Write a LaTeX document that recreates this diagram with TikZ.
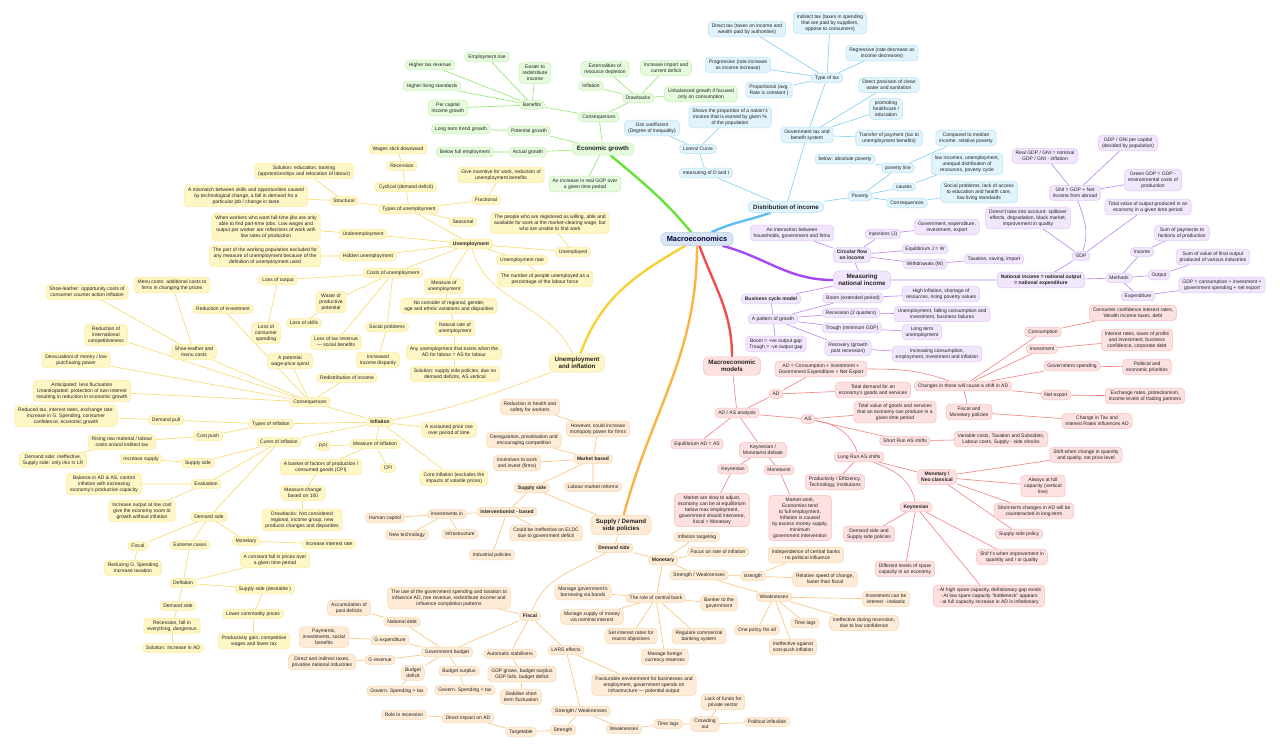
\documentclass[tikz,border=0pt]{standalone}
\usepackage{fontspec}
\setmainfont{Liberation Sans}
\usetikzlibrary{backgrounds}
\definecolor{grnFill}{HTML}{E6FBDD}
\definecolor{grnDraw}{HTML}{C4F0B0}
\definecolor{grnLine}{HTML}{8BE86A}
\definecolor{grnMain}{HTML}{66E43A}
\definecolor{bluFill}{HTML}{E1F4FC}
\definecolor{bluDraw}{HTML}{B4E2F6}
\definecolor{bluLine}{HTML}{80CCF2}
\definecolor{bluMain}{HTML}{5DBDF4}
\definecolor{purFill}{HTML}{F1E6FC}
\definecolor{purDraw}{HTML}{DDC6F6}
\definecolor{purLine}{HTML}{B883EE}
\definecolor{purMain}{HTML}{A649F5}
\definecolor{redFill}{HTML}{FDE1E1}
\definecolor{redDraw}{HTML}{F7BDBD}
\definecolor{redLine}{HTML}{F37F7F}
\definecolor{redMain}{HTML}{F04E4E}
\definecolor{orgFill}{HTML}{FDEBD5}
\definecolor{orgDraw}{HTML}{F7D9B2}
\definecolor{orgLine}{HTML}{F8C27A}
\definecolor{orgMain}{HTML}{FAB444}
\definecolor{ylwFill}{HTML}{FFF6C6}
\definecolor{ylwDraw}{HTML}{FCE9A0}
\definecolor{ylwLine}{HTML}{FAD865}
\definecolor{ylwMain}{HTML}{F9D137}
\definecolor{ctrFill}{HTML}{D8E5F4}
\definecolor{ctrDraw}{HTML}{B9CDE6}
\definecolor{inkTxt}{HTML}{222222}
\begin{document}
\begin{tikzpicture}[x=1pt, y=-1pt,
    box/.style={rectangle, rounded corners=4pt, draw, line width=0.5pt, align=center, text=inkTxt, font=\fontsize{5}{5.9}\selectfont, inner xsep=3.5pt, inner ysep=2.6pt},
    grnbox/.style={box, fill=grnFill, draw=grnDraw},
    blubox/.style={box, fill=bluFill, draw=bluDraw},
    purbox/.style={box, fill=purFill, draw=purDraw},
    redbox/.style={box, fill=redFill, draw=redDraw},
    orgbox/.style={box, fill=orgFill, draw=orgDraw},
    ylwbox/.style={box, fill=ylwFill, draw=ylwDraw},
    strong/.style={font=\fontsize{5}{5.9}\selectfont\bfseries},
    topic/.style={font=\fontsize{6.2}{7.2}\selectfont\bfseries, inner xsep=5pt, inner ysep=3.2pt, rounded corners=5pt},
    hub/.style={box, fill=ctrFill, draw=ctrDraw, font=\fontsize{7.4}{8}\selectfont\bfseries, text=black!80!blue, inner xsep=6pt, inner ysep=4pt, rounded corners=6pt},
    link/.style={line width=0.6pt},
    mainline/.style={line width=2.4pt, line cap=round}
]
\useasboundingbox (0,0) rectangle (1280,750);

\node[hub] (macro) at (697,239) {Macroeconomics};

\node[grnbox, topic] (egrowth) at (603,149) {Economic growth};
\node[grnbox] (gcons) at (599,117) {Consequences};
\node[grnbox] (gben) at (532,105) {Benefits};
\node[grnbox] (gdraw) at (638,98) {Drawbacks};
\node[grnbox] (gext) at (605,69) {Externalities of\\resource depletion};
\node[grnbox] (gimp) at (666,68) {Increase import and\\current deficit};
\node[grnbox] (ginfl) at (591,86) {Inflation};
\node[grnbox] (gunbal) at (701,94) {Unbalanced growth if focused\\only on consumption};
\node[grnbox] (gemp) at (487,57) {Employment rise};
\node[grnbox] (geasy) at (535,73) {Easier to\\redistribute\\income};
\node[grnbox] (gtax) at (430,65) {Higher tax revenue};
\node[grnbox] (gliving) at (432,86) {Higher living standards};
\node[grnbox] (gpercap) at (448,108) {Per capital\\income growth};
\node[grnbox] (gpot) at (529,131) {Potential growth};
\node[grnbox] (glong) at (461,129) {Long term trend growth};
\node[grnbox] (gact) at (528,152) {Actual growth};
\node[grnbox] (gbelow) at (465,152) {Below full employment};
\node[grnbox] (gdef) at (585,184) {An increase in real GDP over\\a given time period};

\node[blubox, topic] (distinc) at (786,207) {Distribution of income};
\node[blubox] (bmeas) at (706,173) {measuring of D and I};
\node[blubox] (blorenz) at (698,149) {Lorenz Curve};
\node[blubox] (bgini) at (652,128) {Gini coefficient\\(Degree of inequality)};
\node[blubox] (bshows) at (730,117) {Shows the proportion of a nation's\\income that is earned by given \%\\of the population};
\node[blubox] (bgov) at (807,135) {Government tax and\\benefit system};
\node[blubox] (btype) at (827,78) {Type of tax};
\node[blubox] (bdirect) at (747,29) {Direct tax (taxes on income and\\wealth paid by authorities)};
\node[blubox] (bindirect) at (830,23) {Indirect tax (taxes in spending\\that are paid by suppliers,\\oppose to consumers)};
\node[blubox] (bregr) at (882,53) {Regressive (rate decrease as\\income decreases)};
\node[blubox] (bprog) at (738,65) {Progressive (rate increase\\as income increase)};
\node[blubox] (bprop) at (769,90) {Proportional (avg.\\Rate is constant )};
\node[blubox] (bwater) at (889,85) {Direct provision of clean\\water and sanitation};
\node[blubox] (bhealth) at (886,109) {promoting\\healthcare /\\education};
\node[blubox] (btransfer) at (889,138) {Transfer of payment (tax to\\unemployment benefits)};
\node[blubox] (babs) at (845,159) {below: absolute poverty};
\node[blubox] (bline) at (898,168) {poverty line};
\node[blubox] (bpov) at (860,196) {Poverty};
\node[blubox] (bcauses) at (904,187) {causes};
\node[blubox] (bcons) at (907,203) {Consequences};
\node[blubox] (brel) at (966,138) {Compared to median\\income: relative poverty};
\node[blubox] (bcausetxt) at (967,164) {low incomes, unemployment,\\unequal distribution of\\resources, poverty cycle};
\node[blubox] (bconstxt) at (979,192) {Social problems, lack of access\\to education and health care,\\low living standards};

\node[purbox, topic] (mni) at (862,280) {Measuring\\national income};
\node[purbox, strong] (pcirc) at (852,255) {Circular flow\\on income};
\node[purbox] (pinter) at (792,233) {An interaction between\\households, government and firms};
\node[purbox] (pinj) at (883,234) {Injections (J)};
\node[purbox] (pinjtxt) at (947,227) {Government, expenditure,\\investment, export};
\node[purbox] (pequil) at (925,249) {Equilibrium  J = W};
\node[purbox] (pwith) at (925,264) {Withdrawals (W)};
\node[purbox] (pwithtxt) at (994,259) {Taxation, saving, import};
\node[purbox, strong] (pnat) at (1041,280) {National income = national output\\= national expenditure};
\node[purbox] (pgdp) at (1081,256) {GDP};
\node[purbox] (pgni) at (1075,193) {GNI = GDP + Net\\income from abroad};
\node[purbox] (preal) at (1045,156) {Real GDP / GNI = nominal\\GDP / GNI - inflation};
\node[purbox] (ppercap) at (1128,143) {GDP / GNI per capital\\(devided by population)};
\node[purbox] (pgreen) at (1153,180) {Green GDP = GDP -\\environmental costs of\\production};
\node[purbox] (pdoesnt) at (1028,218) {Doesn't take into account: spillover\\effects, degradation, black market,\\improvement in quality};
\node[purbox] (ptotal) at (1148,207) {Total value of output produced in an\\economy in a given time period};
\node[purbox] (pmeth) at (1119,278) {Methods};
\node[purbox] (pinc) at (1142,252) {Income};
\node[purbox] (pinctxt) at (1182,233) {Sum of payments to\\factions of production};
\node[purbox] (pout) at (1159,275) {Output};
\node[purbox] (pouttxt) at (1213,257) {Sum of value of final output\\produced of various industries};
\node[purbox] (pexp) at (1138,296) {Expenditure};
\node[purbox] (pexptxt) at (1222,285) {GDP = consumption + investment +\\government spending + net export};
\node[purbox, strong] (pbus) at (771,299) {Business cycle model};
\node[purbox] (ppat) at (773,319) {A pattern of growth};
\node[purbox] (pgap) at (776,344) {Boom = +ve output gap\\Trough = -ve output gap};
\node[purbox] (pboom) at (853,298) {Boom (extended period)};
\node[purbox] (pboomtxt) at (941,294) {High inflation, shortage of\\resources, rising poverty values};
\node[purbox] (prec) at (851,313) {Recession (2 quarters)};
\node[purbox] (prectxt) at (942,314) {Unemployment, falling consumption and\\investment, business failures};
\node[purbox] (ptrough) at (852,328) {Trough (minimum GDP)};
\node[purbox] (ptroughtxt) at (922,332) {Long term\\unemployment};
\node[purbox] (precov) at (848,348) {Recovery (growth\\post recession)};
\node[purbox] (precovtxt) at (937,354) {Increasing consumption,\\employment, investment and inflation};

\node[redbox, topic] (mmodels) at (732,366) {Macroeconomic\\models};
\node[redbox] (adas) at (737,413) {AD / AS analysis};
\node[redbox] (rad) at (776,394) {AD};
\node[redbox] (radform) at (821,369) {AD = Consumption + Investment +\\Government Expenditure + Net Export};
\node[redbox] (rtotdem) at (873,390) {Total demand for an\\economy's goods and services};
\node[redbox] (ras) at (808,419) {AS};
\node[redbox] (rastot) at (895,412) {Total value of goods and services\\that an economy can produce in a\\given time period};
\node[redbox] (rsras) at (905,441) {Short Run AS shifts};
\node[redbox] (rsrastxt) at (1001,439) {Variable costs, Taxation and Subsidies,\\Labour costs, Supply - side shocks};
\node[redbox] (rlras) at (859,457) {Lung Run AS shifts};
\node[redbox] (rprod) at (835,482) {Productivity / Efficiency,\\Technology, Institutions};
\node[redbox, strong] (rmon) at (937,477) {Monetary /\\Neo classical};
\node[redbox] (rshift) at (1086,455) {Shift when change in quantity\\and quality, not price level};
\node[redbox] (ralways) at (1043,486) {Always at full\\capacity (vertical\\line)};
\node[redbox] (rshort) at (1034,511) {Short-term changes in AD will be\\counteracted in long-term};
\node[redbox] (rsupp) at (1019,534) {Supply side policy};
\node[redbox, strong] (rkeyr) at (916,507) {Keynesian};
\node[redbox] (rdemsup) at (869,534) {Demand side and\\Supply side policies};
\node[redbox] (rdiff) at (905,569) {Different levels of spare\\capacity in an economy};
\node[redbox] (rshift2) at (1012,557) {Shif t's when improvement in\\quantity and / or quality};
\node[redbox] (rhigh) at (989,596) {- At high spare capacity, deflationary gap exists\\- At low spare capacity ``bottleneck'' appears\\- at full capacity increase in AD is inflationary};
\node[redbox] (requil) at (697,444) {Equilibrium AD = AS};
\node[redbox] (rdebate) at (763,450) {Keynesian /\\Monetarist debate};
\node[redbox] (rkeyl) at (733,469) {Keynesian};
\node[redbox] (rmonl) at (779,470) {Monetarist};
\node[redbox] (rkeyltxt) at (712,510) {Market are slow to adjust,\\economy can be at equilibrium\\below max employment,\\government should intervene,\\fiscal > Monetary};
\node[redbox] (rmonltxt) at (800,518) {Market work,\\Economies tend\\to full employment,\\Inflation is caused\\by excess money supply,\\minimum\\government intervention};
\node[redbox] (rchg) at (963,386) {Changes in those will cause a shift in AD};
\node[redbox] (rcon) at (1043,332) {Consumption};
\node[redbox] (rcontxt) at (1133,313) {Consumer confidence interest rates,\\Wealth income taxes, debt};
\node[redbox] (rinv) at (1042,349) {Investment};
\node[redbox] (rinvtxt) at (1137,340) {Interest rates, taxes of profits\\and investment, business\\confidence, corporate debt};
\node[redbox] (rgov) at (1072,366) {Government spending};
\node[redbox] (rgovtxt) at (1147,367) {Political and\\economic priorities};
\node[redbox] (rnet) at (1056,395) {Net export};
\node[redbox] (rnettxt) at (1145,396) {Exchange rates, protectionism,\\income levels of trading partners};
\node[redbox] (rfis) at (969,412) {Fiscal and\\Monetary policies};
\node[redbox] (rfistxt) at (1097,421) {Change in Tax and\\Interest Rates influences AD};

\node[orgbox, topic] (sdpol) at (621,525) {Supply / Demand\\side policies};
\node[orgbox, strong] (ssupp) at (532,488) {Supply side};
\node[orgbox, strong] (smarket) at (593,459) {Market based};
\node[orgbox] (shealth) at (530,407) {Reduction in health and\\safety for workers};
\node[orgbox] (smono) at (598,429) {However, could increase\\monopoly power for firms};
\node[orgbox] (sdereg) at (524,440) {Deregulation, privatisation and\\encouraging competition};
\node[orgbox] (sincent) at (517,463) {Incentives to work\\and invest (firms)};
\node[orgbox] (slabour) at (593,487) {Labour market reforms};
\node[orgbox, strong] (sinterv) at (507,512) {interventionist - based};
\node[orgbox] (sinvest) at (447,514) {investments in};
\node[orgbox] (shuman) at (385,518) {Human capitol};
\node[orgbox] (snewtech) at (407,535) {New technology};
\node[orgbox] (sinfra) at (460,534) {Infrastructure};
\node[orgbox] (seldc) at (546,533) {Could be ineffective on ELDC\\due to government deficit};
\node[orgbox] (sindust) at (492,555) {Industrial policies};
\node[orgbox, strong] (sdem) at (614,548) {Demand side};
\node[orgbox, strong] (smon) at (663,560) {Monetary};
\node[orgbox] (starget) at (697,537) {Inflation targeting};
\node[orgbox] (sfocus) at (718,552) {Focus on rate of inflation};
\node[orgbox] (ssw) at (699,575) {Strength / Weaknesses};
\node[orgbox] (sstr) at (753,576) {strength};
\node[orgbox] (sindep) at (806,555) {Independence of central banks\\- no political influence};
\node[orgbox] (srel) at (825,579) {Relative speed of change,\\faster than fiscal};
\node[orgbox] (sweak) at (774,597) {Weaknesses};
\node[orgbox] (sone) at (757,630) {One policy fits all};
\node[orgbox] (stlag) at (805,623) {Time lags};
\node[orgbox] (scost) at (793,647) {Ineffective against\\cost-push inflation};
\node[orgbox] (srecess) at (864,623) {Ineffective during recession,\\due to low confidence};
\node[orgbox] (sinel) at (886,599) {Investment can be\\interest - inelastic};
\node[orgbox] (scb) at (656,598) {The role of central bank};
\node[orgbox] (sborrow) at (583,592) {Manage government's\\borrowing via bonds};
\node[orgbox] (sbanker) at (719,603) {Banker to the\\government};
\node[orgbox] (smoney) at (592,617) {Manage supply of money\\via nominal interest};
\node[orgbox] (srates) at (631,636) {Set interest rates for\\macro objectives};
\node[orgbox] (sregul) at (699,636) {Regulate commercial\\banking system};
\node[orgbox] (sforeign) at (665,657) {Manage foreign\\currency reserves};
\node[orgbox, strong] (sfis) at (530,616) {Fiscal};
\node[orgbox] (suse) at (449,598) {The use of the government spending and taxation to\\influence AD, rise revenue, redistribute income and\\influence completion patterns};
\node[orgbox] (sbudget) at (447,652) {Government budget};
\node[orgbox] (sdebt) at (402,622) {National debt};
\node[orgbox] (saccum) at (349,608) {Accumulation of\\past deficits};
\node[orgbox] (sgexp) at (390,640) {G expenditure};
\node[orgbox] (spay) at (324,637) {Payments,\\investments, social\\benefits};
\node[orgbox] (sgrev) at (380,660) {G revenue};
\node[orgbox] (sdirtax) at (322,662) {Direct and indirect taxes,\\privatise national industries};
\node[orgbox] (sdeficit) at (413,673) {Budget\\deficit};
\node[orgbox] (sgt) at (397,691) {Govern. Spending > tax};
\node[orgbox] (ssurplus) at (459,671) {Budget surplus};
\node[orgbox] (slt) at (465,690) {Govern. Spending < tax};
\node[orgbox] (sauto) at (510,654) {Automatic stabilisers};
\node[orgbox] (sgdp) at (522,674) {GDP grows, budget surplus\\GDP falls, budget deficit};
\node[orgbox] (sstab) at (521,697) {Stabilise short\\term fluctuation};
\node[orgbox] (slars) at (566,650) {LARS effects};
\node[orgbox] (sfav) at (644,685) {Favourable environment for businesses and\\employment, government spends on\\infrastructure — potential output};
\node[orgbox] (ssw2) at (581,711) {Strength / Weaknesses};
\node[orgbox] (sstrength) at (563,730) {Strength};
\node[orgbox] (starg) at (521,732) {Targetable};
\node[orgbox] (sdirad) at (468,718) {Direct impact on AD};
\node[orgbox] (srole) at (404,715) {Role in recession};
\node[orgbox] (sweak2) at (624,729) {Weaknesses};
\node[orgbox] (stlag2) at (668,724) {Time lags};
\node[orgbox] (scrowd) at (705,724) {Crowding\\out};
\node[orgbox] (slack) at (723,702) {Lack of funds for\\private sector};
\node[orgbox] (spolit) at (767,722) {Political inflexible};

\node[ylwbox, topic] (ui) at (577,363) {Unemployment\\and inflation};
\node[ylwbox, strong] (unemp) at (471,244) {Unemployment};
\node[ylwbox] (uunemd) at (573,252) {Unemployed};
\node[ylwbox] (upeople) at (550,223) {The people who are registered as willing, able and\\available for work at the market-clearing wage, but\\who are unable to find work};
\node[ylwbox] (urate) at (522,260) {Unemployment rate};
\node[ylwbox] (unumber) at (545,279) {The number of people unemployed as a\\percentage of the labour force};
\node[ylwbox] (utypes) at (409,209) {Types of unemployment};
\node[ylwbox] (ucyc) at (406,187) {Cyclical (demand deficit)};
\node[ylwbox] (urec) at (402,166) {Recession};
\node[ylwbox] (uwages) at (398,149) {Wages stick downward};
\node[ylwbox] (ufrac) at (486,200) {Fractional};
\node[ylwbox] (ugive) at (501,175) {Give incentive for work, reduction of\\unemployment benefits};
\node[ylwbox] (useas) at (463,222) {Seasonal};
\node[ylwbox] (ustruct) at (344,201) {Structural};
\node[ylwbox] (usol) at (304,171) {Solution: education, training\\(apprenticeships and relocation of labour)};
\node[ylwbox] (umism) at (246,196) {A mismatch between skills and opportunities caused\\by technological change, a fall in demand fro a\\particular job / change in taste};
\node[ylwbox] (uunder) at (363,234) {Underemployment};
\node[ylwbox] (uwhen) at (266,227) {When workers who want full-time jibs are only\\able to find part-time jobs. Low wages and\\output per worker are reflections of work with\\low rates of production};
\node[ylwbox] (uhidden) at (368,256) {Hidden unemployment};
\node[ylwbox] (upart) at (265,256) {The part of the working population excluded for\\any measure of unemployment because of the\\definition of unemployment used};
\node[ylwbox] (ucosts) at (393,273) {Costs of unemployment};
\node[ylwbox] (uoutput) at (278,280) {Loss of output};
\node[ylwbox] (uspend) at (266,333) {Loss of\\consumer\\spending};
\node[ylwbox] (uwaste) at (331,302) {Waste of\\productive\\potential};
\node[ylwbox] (uskills) at (304,323) {Loss of skills};
\node[ylwbox] (utaxrev) at (336,342) {Loss of tax revenue\\— social benefits};
\node[ylwbox] (usocial) at (387,327) {Social problems};
\node[ylwbox] (udisp) at (378,360) {Increased\\income disparity};
\node[ylwbox] (umeas) at (444,286) {Measure of\\unemployment};
\node[ylwbox] (unocon) at (449,306) {No consider of regional, gender,\\age and ethnic variations and disparities};
\node[ylwbox] (unat) at (455,328) {Natural rate of\\unemployment};
\node[ylwbox] (uany) at (454,352) {Any unemployment that exists when the\\AD for labour = AS for labour};
\node[ylwbox] (usolnat) at (455,374) {Solution: supply side policies, due no\\demand deficits, AS vertical};

\node[ylwbox, strong] (infl) at (380,422) {Inflation};
\node[ylwbox] (icons) at (310,402) {Consequences};
\node[ylwbox] (ishoemenu) at (194,352) {Shoe-leather and\\menu costs};
\node[ylwbox] (imenu) at (172,285) {Menu costs: additional costs to\\firms in changing the prices};
\node[ylwbox] (ishoe) at (87,292) {Shoe-leather: opportunity costs of\\consumer counter action inflation};
\node[ylwbox] (iredinv) at (223,309) {Reduction of investment};
\node[ylwbox] (iintl) at (106,335) {Reduction of\\international\\competitiveness};
\node[ylwbox] (ideval) at (76,360) {Deva;uationi of money / low\\purchasing power};
\node[ylwbox] (iantic) at (82,391) {Anticipated: less fluctuation\\Unanticipated: protection of own interest\\resulting in reduction in economic growth};
\node[ylwbox] (iwage) at (290,361) {A potential\\wage-price spiral};
\node[ylwbox] (iredist) at (347,378) {Redistribution of income};
\node[ylwbox] (itypes) at (271,424) {Types of inflation};
\node[ylwbox] (idpull) at (166,420) {Demand pull};
\node[ylwbox] (idpulltxt) at (66,416) {Reduced tax, interest rates, exchange rate:\\increase in G. Spending, consumer\\confidence, economic growth};
\node[ylwbox] (icpush) at (208,436) {Cost push};
\node[ylwbox] (icpushtxt) at (122,442) {Rising raw material / labour\\costs or/and indirect tax};
\node[ylwbox] (iineff) at (53,460) {Demand side: ineffective,\\Supply side: only irks in LR};
\node[ylwbox] (icures) at (279,442) {Cures of inflation};
\node[ylwbox] (isupp) at (198,463) {Supply side};
\node[ylwbox] (iincsup) at (141,459) {Increase supply};
\node[ylwbox] (ieval) at (206,484) {Evaluation};
\node[ylwbox] (ibal) at (104,484) {Balance in AD \& AS, control\\inflation with increasing\\economy's productive capacity};
\node[ylwbox] (iincout) at (142,511) {Increase output at low cost\\give the economy room to\\growth without inflation};
\node[ylwbox] (idem) at (209,517) {Demand side};
\node[ylwbox] (ifis) at (138,546) {Fiscal};
\node[ylwbox] (ired) at (133,568) {Reducing G. Spending\\increase taxation};
\node[ylwbox] (iext) at (190,545) {Extreme cases};
\node[ylwbox] (imon) at (246,541) {Monetary};
\node[ylwbox] (iint) at (329,544) {Increase interest rate};
\node[ylwbox] (idefl) at (183,583) {Deflation};
\node[ylwbox] (iconst) at (275,560) {A constant fall in prices over\\a given time period};
\node[ylwbox] (isuppdes) at (265,589) {Supply side (desirable )};
\node[ylwbox] (ilower) at (253,614) {Lower commodity prices};
\node[ylwbox] (iprod) at (254,641) {Productivity gain, competitive\\wages and lower tax};
\node[ylwbox] (idemdefl) at (178,606) {Demand side};
\node[ylwbox] (irecfall) at (172,626) {Recession, fall in\\everything, dangerous};
\node[ylwbox] (isolad) at (173,648) {Solution: Increase in AD};
\node[ylwbox] (imeas) at (375,444) {Measure of inflation};
\node[ylwbox] (ippi) at (323,446) {PPI};
\node[ylwbox] (icpi) at (388,468) {CPI};
\node[ylwbox] (ibasket) at (321,467) {A basket of factors of production /\\consumed goods (CPI)};
\node[ylwbox] (ichg) at (303,493) {Measure change\\based on 100};
\node[ylwbox] (idraw) at (302,520) {Drawbacks: Not considered\\regional, income group, new\\products changes and disparities};
\node[ylwbox] (isust) at (449,430) {A sustained price rise\\over period of time};
\node[ylwbox] (icore) at (454,478) {Core inflation (excludes the\\impacts of volatile prices)};

\begin{scope}[on background layer]
\fill[white] (0,0) rectangle (1280,750);
\draw[mainline, grnMain] (macro) to[out=130, in=-40] (egrowth);
\draw[mainline, bluMain] (macro) to[out=25, in=200] (distinc);
\draw[mainline, purMain] (macro) to[out=-15, in=180] (mni);
\draw[mainline, redMain] (macro) to[out=-70, in=90] (mmodels);
\draw[mainline, orgMain] (macro) to[out=-90, in=75] (sdpol);
\draw[mainline, ylwMain] (macro) to[out=-150, in=70] (ui);

\draw[link, grnLine] (egrowth) -- (gcons) (gcons) -- (gben) (gcons) -- (gdraw) (gdraw) -- (gext) (gdraw) -- (gimp) (gdraw) -- (ginfl) (gdraw) -- (gunbal);
\draw[link, grnLine] (gben) -- (gemp) (gben) -- (geasy) (gben) -- (gtax) (gben) -- (gliving) (gben) -- (gpercap);
\draw[link, grnLine] (egrowth) -- (gpot) (gpot) -- (glong) (egrowth) -- (gact) (gact) -- (gbelow) (egrowth) -- (gdef);

\draw[link, bluLine] (distinc) -- (bmeas) (bmeas) -- (blorenz) (blorenz) -- (bgini) (blorenz) -- (bshows);
\draw[link, bluLine] (distinc) -- (bgov) (bgov) -- (btype) (btype) -- (bdirect) (btype) -- (bindirect) (btype) -- (bregr) (btype) -- (bprog) (btype) -- (bprop);
\draw[link, bluLine] (bgov) -- (bwater) (bgov) -- (bhealth) (bgov) -- (btransfer);
\draw[link, bluLine] (distinc) -- (bpov) (bpov) -- (bline) (bline) -- (babs) (bline) -- (brel) (bpov) -- (bcauses) (bcauses) -- (bcausetxt) (bpov) -- (bcons) (bcons) -- (bconstxt);

\draw[link, purLine] (mni) -- (pcirc) (pcirc) -- (pinter) (pcirc) -- (pinj) (pinj) -- (pinjtxt) (pcirc) -- (pequil) (pcirc) -- (pwith) (pwith) -- (pwithtxt);
\draw[link, purLine] (mni) -- (pnat) (pnat) -- (pgdp) (pgni) -- (preal) (pgni) -- (ppercap) (pgni) -- (pgreen) (pgdp) -- (pdoesnt) (pgdp) -- (ptotal);
\draw[link, purLine] (pgdp) to[out=70, in=-70] (pgni);
\draw[link, purLine] (pnat) -- (pmeth) (pmeth) -- (pinc) (pinc) -- (pinctxt) (pmeth) -- (pout) (pout) -- (pouttxt) (pmeth) -- (pexp) (pexp) -- (pexptxt);
\draw[link, purLine] (mni) -- (pbus) (pbus) -- (ppat) (ppat) -- (pgap) (ppat) -- (pboom) (pboom) -- (pboomtxt) (ppat) -- (prec) (prec) -- (prectxt);
\draw[link, purLine] (ppat) -- (ptrough) (ptrough) -- (ptroughtxt) (ppat) -- (precov) (precov) -- (precovtxt);

\draw[link, redLine] (mmodels) -- (adas) (adas) -- (rad) (rad) -- (radform) (rad) -- (rtotdem) (adas) -- (ras) (ras) -- (rastot) (ras) -- (rsras) (rsras) -- (rsrastxt);
\draw[link, redLine] (ras) to[out=-10, in=110] (rlras);
\draw[link, redLine] (rlras) -- (rprod) (rlras) -- (rmon) (rmon) -- (rshift) (rmon) -- (ralways) (rmon) -- (rshort) (rmon) -- (rsupp);
\draw[link, redLine] (rlras) to[out=-20, in=100] (rkeyr);
\draw[link, redLine] (rkeyr) -- (rdemsup) (rkeyr) -- (rdiff) (rkeyr) -- (rshift2) (rkeyr) -- (rhigh);
\draw[link, redLine] (adas) -- (requil) (adas) -- (rdebate) (rdebate) -- (rkeyl) (rdebate) -- (rmonl) (rkeyl) -- (rkeyltxt) (rmonl) -- (rmonltxt);
\draw[link, redLine] (radform) to[out=0, in=160] (rchg);
\draw[link, redLine] (rchg) -- (rcon) (rcon) -- (rcontxt) (rchg) -- (rinv) (rinv) -- (rinvtxt) (rchg) -- (rgov) (rgov) -- (rgovtxt);
\draw[link, redLine] (rchg) -- (rnet) (rnet) -- (rnettxt) (rchg) -- (rfis) (rfis) -- (rfistxt);

\draw[link, orgLine] (sdpol) -- (ssupp) (ssupp) -- (smarket) (smarket) -- (smono) (smono) -- (shealth) (smarket) -- (sdereg) (smarket) -- (sincent) (smarket) -- (slabour);
\draw[link, orgLine] (ssupp) -- (sinterv) (sinterv) -- (sinvest) (sinvest) -- (shuman) (sinvest) -- (snewtech) (sinvest) -- (sinfra) (sinterv) -- (seldc) (sinterv) -- (sindust);
\draw[link, orgLine] (sdpol) -- (sdem) (sdem) -- (smon) (smon) -- (starget) (smon) -- (sfocus) (smon) -- (ssw) (ssw) -- (sstr) (sstr) -- (sindep) (sstr) -- (srel);
\draw[link, orgLine] (ssw) -- (sweak) (sweak) -- (sone) (sweak) -- (stlag) (sweak) -- (scost) (sweak) -- (srecess) (sweak) -- (sinel);
\draw[link, orgLine] (smon) -- (scb) (scb) -- (sborrow) (scb) -- (sbanker) (scb) -- (smoney) (scb) -- (srates) (scb) -- (sregul) (scb) -- (sforeign);
\draw[link, orgLine] (sdem) to[out=-150, in=70] (sfis);
\draw[link, orgLine] (sfis) -- (suse) (sfis) -- (sbudget) (sbudget) -- (sdebt) (sdebt) -- (saccum) (sbudget) -- (sgexp) (sgexp) -- (spay) (sbudget) -- (sgrev) (sgrev) -- (sdirtax);
\draw[link, orgLine] (sbudget) -- (sdeficit) (sdeficit) -- (sgt) (sbudget) -- (ssurplus) (ssurplus) -- (slt);
\draw[link, orgLine] (sfis) -- (sauto) (sauto) -- (sgdp) (sgdp) -- (sstab) (sfis) -- (slars) (slars) -- (sfav) (slars) -- (ssw2);
\draw[link, orgLine] (ssw2) -- (sstrength) (sstrength) -- (starg) (starg) -- (sdirad) (sdirad) -- (srole) (ssw2) -- (sweak2) (sweak2) -- (stlag2) (stlag2) -- (scrowd) (scrowd) -- (slack) (scrowd) -- (spolit);

\draw[link, ylwLine] (ui) to[out=115, in=-75] (unemp);
\draw[link, ylwLine] (unemp) -- (uunemd) (uunemd) -- (upeople) (unemp) -- (urate) (urate) -- (unumber);
\draw[link, ylwLine] (unemp) -- (utypes) (utypes) -- (ucyc) (ucyc) -- (urec) (urec) -- (uwages) (utypes) -- (ufrac) (ufrac) -- (ugive) (utypes) -- (useas);
\draw[link, ylwLine] (utypes) -- (ustruct) (ustruct) -- (usol) (ustruct) -- (umism) (unemp) -- (uunder) (uunder) -- (uwhen) (unemp) -- (uhidden) (uhidden) -- (upart);
\draw[link, ylwLine] (unemp) -- (ucosts) (ucosts) -- (uoutput) (uoutput) -- (uspend) (ucosts) -- (uwaste) (uwaste) -- (uskills) (ucosts) -- (utaxrev) (ucosts) -- (usocial) (usocial) -- (udisp);
\draw[link, ylwLine] (unemp) -- (umeas) (umeas) -- (unocon) (unocon) -- (unat) (unat) -- (uany) (uany) -- (usolnat);
\draw[link, ylwLine] (ui) to[out=-160, in=10] (infl);
\draw[link, ylwLine] (infl) -- (icons) (icons) -- (ishoemenu) (ishoemenu) -- (imenu) (ishoemenu) -- (ishoe) (icons) -- (iredinv) (icons) -- (iintl) (icons) -- (ideval);
\draw[link, ylwLine] (icons) -- (iantic) (icons) -- (iwage) (icons) -- (iredist);
\draw[link, ylwLine] (infl) -- (itypes) (itypes) -- (idpull) (idpull) -- (idpulltxt) (itypes) -- (icpush) (icpush) -- (icpushtxt) (icpushtxt) -- (iineff);
\draw[link, ylwLine] (infl) -- (icures) (icures) -- (isupp) (isupp) -- (iincsup) (icures) -- (ieval) (ieval) -- (ibal) (ieval) -- (iincout) (icures) -- (idem);
\draw[link, ylwLine] (idem) -- (ifis) (ifis) -- (ired) (idem) -- (iext) (iext) -- (idefl) (idem) -- (imon) (imon) -- (iint);
\draw[link, ylwLine] (idefl) -- (iconst) (idefl) -- (isuppdes) (isuppdes) -- (ilower) (ilower) -- (iprod) (idefl) -- (idemdefl) (idemdefl) -- (irecfall) (irecfall) -- (isolad);
\draw[link, ylwLine] (infl) -- (imeas) (imeas) -- (ippi) (imeas) -- (icpi) (imeas) -- (ibasket) (ibasket) -- (ichg) (ichg) -- (idraw) (infl) -- (isust) (infl) -- (icore);
\end{scope}

\end{tikzpicture}
\end{document}
